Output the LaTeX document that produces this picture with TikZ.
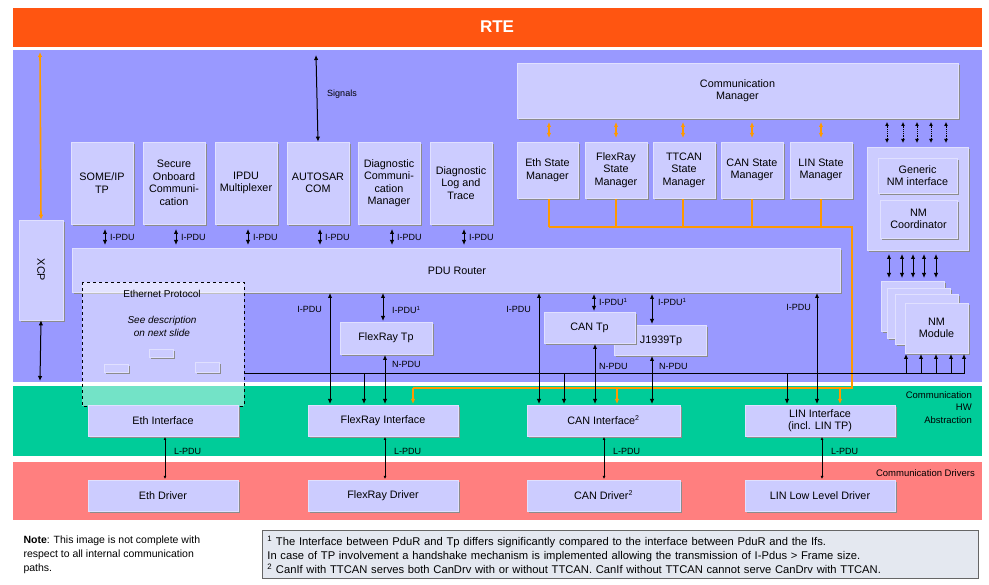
\documentclass[tikz,border=0pt]{standalone}
\usepackage{fontspec}
\setmainfont{Liberation Sans}
\usetikzlibrary{arrows.meta,shadows}
\definecolor{rtec}{HTML}{FF5511}
\definecolor{purp}{HTML}{9999FF}
\definecolor{boxc}{HTML}{CCCCFF}
\definecolor{grn}{HTML}{00CC99}
\definecolor{redc}{HTML}{FF7F7F}
\definecolor{orc}{HTML}{FF9900}
\definecolor{notec}{HTML}{E4E8F0}
\tikzset{
 box/.style={fill=boxc,draw=boxc!60!white,line width=0.6pt,align=center,inner sep=1pt,
   font=\fontsize{10.8}{12.5}\selectfont,
   drop shadow={shadow xshift=1.8pt,shadow yshift=-1.8pt,fill=black!45,opacity=1}},
 arr/.style={line width=1pt,{Latex[length=5pt,width=4.5pt]}-{Latex[length=5pt,width=4.5pt]}},
 sarr/.style={line width=1pt,-{Latex[length=5pt,width=4.5pt]}},
 oarr/.style={orc,line width=1.6pt,{Latex[length=5pt,width=4.5pt]}-{Latex[length=5pt,width=4.5pt]}},
 osarr/.style={orc,line width=1.6pt,-{Latex[length=5pt,width=4.5pt]}},
 darr/.style={line width=0.8pt,densely dotted,{Latex[length=4pt,width=4pt]}-{Latex[length=4pt,width=4pt]}},
 lbl/.style={font=\fontsize{9}{10}\selectfont,inner sep=1pt},
 oline/.style={orc,line width=1.6pt},
}
\newcommand\mybox[6]{\node[box,minimum width={#4-#2},minimum height={#5-#3}] (#1) at ({(#2+#4)/2},{(#3+#5)/2}) {#6};}
\begin{document}
\begin{tikzpicture}[x=1pt,y=-1pt]
\useasboundingbox[fill=white] (0,0) rectangle (989,585);
% bands
\fill[rtec] (13,8) rectangle (982,47);
\node[white,font=\fontsize{17}{20}\selectfont\bfseries] (rte) at (497,27) {RTE};
\fill[purp] (13,50) rectangle (982,382);
\fill[grn] (13,386) rectangle (982,456);
\fill[redc] (13,462) rectangle (982,520);
\node[lbl,font=\fontsize{9.5}{12.5}\selectfont,align=right,anchor=north east] (hwa) at (973,390) {Communication\\HW\\Abstraction};
\node[lbl,font=\fontsize{9.5}{11}\selectfont,anchor=east] (cdr) at (976,473) {Communication Drivers};
% upper modules
\mybox{someip}{71}{142}{133}{224}{SOME/IP\\TP}
\mybox{secoc}{143}{142}{205}{224}{Secure\\Onboard\\Communi-\\cation}
\mybox{ipdum}{215}{142}{277}{224}{IPDU\\Multiplexer}
\mybox{com}{287}{142}{349}{224}{AUTOSAR\\COM}
\mybox{dcm}{358}{142}{420}{224}{Diagnostic\\Communi-\\cation\\Manager}
\mybox{dlt}{430}{142}{492}{224}{Diagnostic\\Log and\\Trace}
\mybox{pdur}{72}{248}{840}{292}{}
\node[font=\fontsize{10.8}{12}\selectfont] (pdurt) at (457,271) {PDU Router};
\mybox{xcp}{19}{220}{63}{320}{}
\node[rotate=-90,font=\fontsize{10.8}{12}\selectfont] (xcpt) at (41,270) {XCP};
\coordinate (xtop) at (40,52);
\coordinate (xbot) at (40,381);
\draw[oarr] (xtop) -- (xcp.north);
\draw[arr] (xcp.south) -- (xbot);
\coordinate (sigtop) at (316,55);
\draw[arr] (sigtop) -- (com.north);
\node[lbl] (sig) at (342,94) {Signals};
\foreach \x in {105,176,248,320,392,464}{
  \draw[arr] (\x,229) -- (\x,245);
  \node[lbl,anchor=west] at (\x+4,237) {I-PDU};
}
% communication manager
\mybox{comm}{517}{63}{958}{118}{Communication\\Manager}
\mybox{ethsm}{517}{142}{578}{198}{Eth State\\Manager}
\mybox{frsm}{585}{142}{647}{198}{FlexRay\\State\\Manager}
\mybox{ttsm}{653}{142}{715}{198}{TTCAN\\State\\Manager}
\mybox{cansm}{721}{142}{783}{198}{CAN State\\Manager}
\mybox{linsm}{790}{142}{852}{198}{LIN State\\Manager}
\foreach \x in {549,616,683,752,821}{
  \draw[oarr] (\x,122) -- (\x,138);
  \draw[oline] (\x,199) -- (\x,227);
}
\draw[oline] (549,227) -- (852,227) -- (852,388) -- (413,388);
% NM
\mybox{nm}{867}{147}{968}{250}{}
\mybox{gnm}{878}{158}{957}{193}{Generic\\NM interface}
\mybox{nmc}{880}{200}{957}{238}{NM\\Coordinator}
\foreach \x in {887,903,917,931,946}{
  \draw[darr] (\x,122) -- (\x,143);
}
\foreach \x in {889,902,913,924,936}{
  \draw[arr] (\x,254) -- (\x,278);
}
\mybox{nmm1}{881}{281}{944}{331}{}
\mybox{nmm2}{887}{288}{950}{338}{}
\mybox{nmm3}{895}{294}{958}{344}{}
\mybox{nmm}{905}{303}{968}{353}{NM\\Module}
% Ethernet protocol region
\draw[dashed,line width=0.6pt,fill=white,fill opacity=0.45] (82,282) rectangle (244,406);
\node[font=\fontsize{10}{11}\selectfont] (ethp) at (162,294) {Ethernet Protocol};
\node[font=\fontsize{10}{13}\selectfont\itshape,align=center] (ethd) at (162,326) {See description\\on next slide};
\mybox{eb1}{149}{349}{173}{357}{}
\mybox{eb2}{104}{364}{128}{372}{}
\mybox{eb3}{195}{362}{219}{372}{}
% Tps
\mybox{frtp}{340}{322}{432}{354}{FlexRay Tp}
\mybox{j19}{614}{325}{706}{355}{}
\node[font=\fontsize{10.8}{12}\selectfont] (j19t) at (661,341) {J1939Tp};
\mybox{cantp}{544}{312}{635}{343}{CAN Tp}
% interfaces and drivers
\mybox{ethif}{88}{405}{238}{436}{Eth Interface}
\mybox{frif}{308}{405}{458}{436}{FlexRay Interface}
\mybox{canif}{527}{405}{680}{436}{CAN Interface\textsuperscript{\scriptsize 2}}
\mybox{linif}{745}{405}{895}{436}{LIN Interface\\(incl. LIN TP)}
\mybox{ethdr}{88}{480}{238}{511}{Eth Driver}
\mybox{frdr}{308}{480}{458}{511}{FlexRay Driver}
\mybox{candr}{527}{480}{680}{511}{CAN Driver\textsuperscript{\scriptsize 2}}
\mybox{lindr}{745}{480}{895}{511}{LIN Low Level Driver}
\foreach \x in {165,385,604,822}{
  \draw[line width=0.8pt,{Latex[length=3pt,width=3pt]}-{Latex[length=3pt,width=3pt]}] (\x,437) -- (\x,479);
  \node[lbl,anchor=west] at (\x+8,451) {L-PDU};
}
% bus
\draw[line width=1pt] (244,374) -- (964,374);
\foreach \x in {906,921,936,951,964}{ \draw[sarr] (\x,374) -- (\x,354); }
\foreach \x in {364,564,787}{ \draw[sarr] (\x,374) -- (\x,404); }
% I-PDU from router to interfaces
\draw[arr] (330,293) -- (330,404); \node[lbl,anchor=east] at (323,309) {I-PDU};
\draw[arr] (539,293) -- (539,404); \node[lbl,anchor=east] at (532,309) {I-PDU};
\draw[arr] (817,293) -- (817,404); \node[lbl,anchor=east] at (812,307) {I-PDU};
% Tp connections
\draw[arr] (383,293) -- (383,321); \node[lbl,anchor=west] at (391,310) {I-PDU\textsuperscript{1}};
\draw[arr] (385,355) -- (385,404); \node[lbl,anchor=west] at (391,364) {N-PDU};
\draw[arr] (594,294) -- (594,311); \node[lbl,anchor=west] at (598,302) {I-PDU\textsuperscript{1}};
\draw[arr] (652,294) -- (652,324); \node[lbl,anchor=west] at (657,302) {I-PDU\textsuperscript{1}};
\draw[arr] (595,344) -- (595,404); \node[lbl,anchor=west] at (598,366) {N-PDU};
\draw[arr] (652,356) -- (652,404); \node[lbl,anchor=west] at (658,366) {N-PDU};
% orange arrows to interfaces
\foreach \x in {413,617,840}{ \draw[osarr] (\x,388) -- (\x,404); }
% notes
\node[anchor=north west,align=left,font=\fontsize{10.5}{14}\selectfont] (note) at (20,532) {\textbf{Note}: This image is not complete with\\respect to all internal communication\\paths.};
\node[draw=black!60,fill=notec,line width=0.8pt,anchor=north west,align=left,inner sep=4pt,
  minimum width=716,minimum height=48,text width=706,font=\fontsize{11.2}{14}\selectfont] (fn) at (262,530)
 {\textsuperscript{1} The Interface between PduR and Tp differs significantly compared to the interface between PduR and the Ifs.\\
 In case of TP involvement a handshake mechanism is implemented allowing the transmission of I-Pdus > Frame size.\\
 \textsuperscript{2} CanIf with TTCAN serves both CanDrv with or without TTCAN. CanIf without TTCAN cannot serve CanDrv with TTCAN.};
\end{tikzpicture}
\end{document}
